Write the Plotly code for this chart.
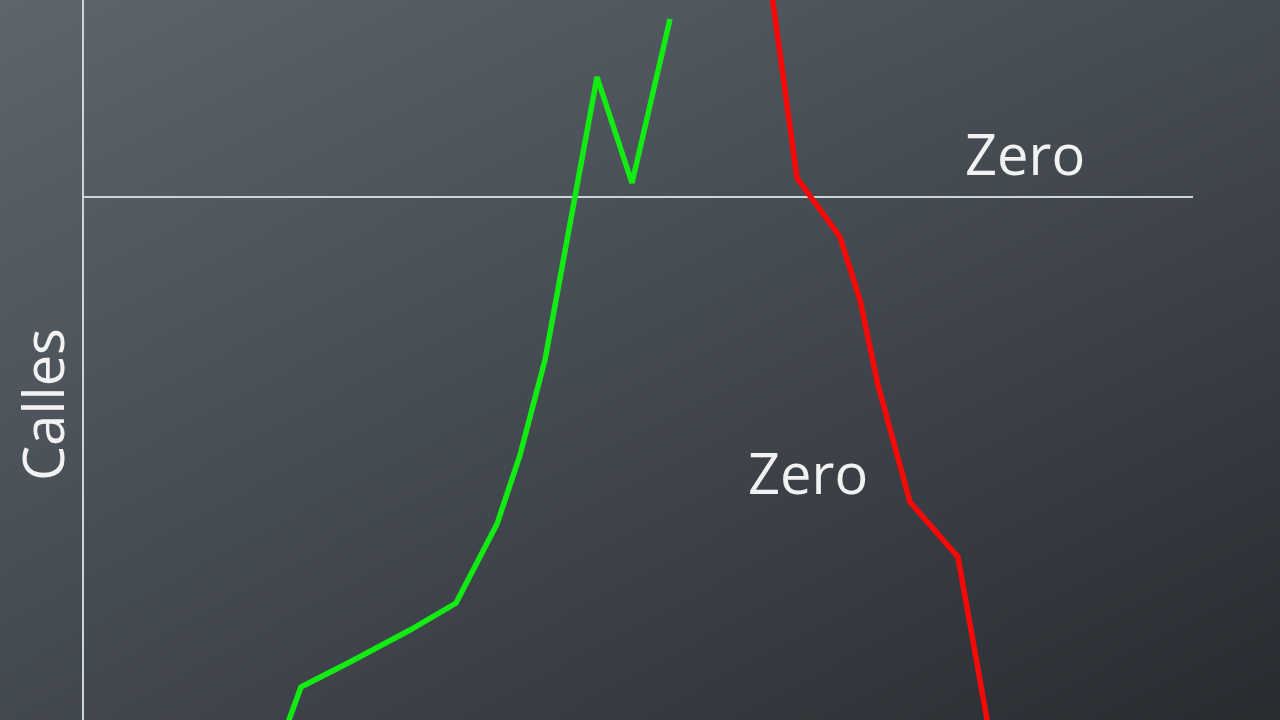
import plotly.graph_objects as go

# Data (x: time units, y: level relative to the zero line)
green_x = [20.2, 21.7, 26.6, 32.6, 37.2, 41.3, 43.6, 46.1, 47.9, 51.3, 54.8, 58.6]
green_y = [-53.1, -49.0, -46.5, -43.3, -40.6, -32.7, -25.8, -16.3, -6.5, 12.0, 1.4, 17.8]

red_x = [68.8, 71.3, 75.6, 77.6, 79.4, 82.6, 87.4, 90.4]
red_y = [20.2, 1.9, -4.0, -10.3, -18.8, -30.5, -36.0, -52.8]

zero_x = [0, 110.9]
zero_y = [0, 0]

labels = ["Zero", "Zero"]
label_x = [94.1, 72.4]
label_y = [4.4, -27.5]
y_title = "Calles"

W, H = 1280, 720
left = 84

fig = go.Figure()

# background gradient
fig.add_trace(go.Heatmap(
    z=[[0.5, 0.0], [1.0, 0.55]], x=[0, 1], y=[0, 1],
    zsmooth="best", showscale=False, hoverinfo="skip",
    colorscale=[[0, "rgb(40,44,49)"], [1, "rgb(93,101,109)"]],
    zmin=0, zmax=1, xaxis="x", yaxis="y"))

fig.add_trace(go.Scatter(x=zero_x, y=zero_y, mode="lines",
                         line=dict(color="rgb(205,212,218)", width=2),
                         xaxis="x2", yaxis="y2", hoverinfo="skip"))
fig.add_trace(go.Scatter(x=green_x, y=green_y, mode="lines",
                         line=dict(color="rgb(18,236,18)", width=5.5),
                         xaxis="x2", yaxis="y2"))
fig.add_trace(go.Scatter(x=red_x, y=red_y, mode="lines",
                         line=dict(color="rgb(250,8,8)", width=5.5),
                         xaxis="x2", yaxis="y2"))

for t, x, y in zip(labels, label_x, label_y):
    fig.add_annotation(text=t, x=x, y=y, xref="x2", yref="y2", showarrow=False,
                       xanchor="center", yanchor="middle",
                       font=dict(family="Open Sans", size=56, color="rgb(242,242,242)"))

fig.add_annotation(text=y_title, x=42 / W, y=1 - 405 / H, xref="paper", yref="paper",
                   showarrow=False, textangle=-90, xanchor="center", yanchor="middle",
                   font=dict(family="Open Sans", size=56, color="rgb(242,242,242)"))

fig.update_layout(
    width=W, height=H,
    margin=dict(l=0, r=0, t=0, b=0),
    paper_bgcolor="rgb(60,66,72)",
    plot_bgcolor="rgba(0,0,0,0)",
    showlegend=False,
    xaxis=dict(domain=[0, 1], range=[0, 1], visible=False, fixedrange=True),
    yaxis=dict(domain=[0, 1], range=[0, 1], visible=False, fixedrange=True),
    xaxis2=dict(domain=[left / W, 1], range=[0, (W - left) / 10], anchor="y2",
                showgrid=False, zeroline=False, showticklabels=False, ticks="",
                showline=False),
    yaxis2=dict(domain=[0, 1], range=[-52.3, 19.7], anchor="x2",
                showgrid=False, zeroline=False, showticklabels=False, ticks="",
                showline=True, linecolor="rgb(205,212,218)", linewidth=2),
)

fig.write_html("out.html", config={"displayModeBar": False},
               post_script="document.body.style.margin='0';document.body.style.overflow='hidden';")
